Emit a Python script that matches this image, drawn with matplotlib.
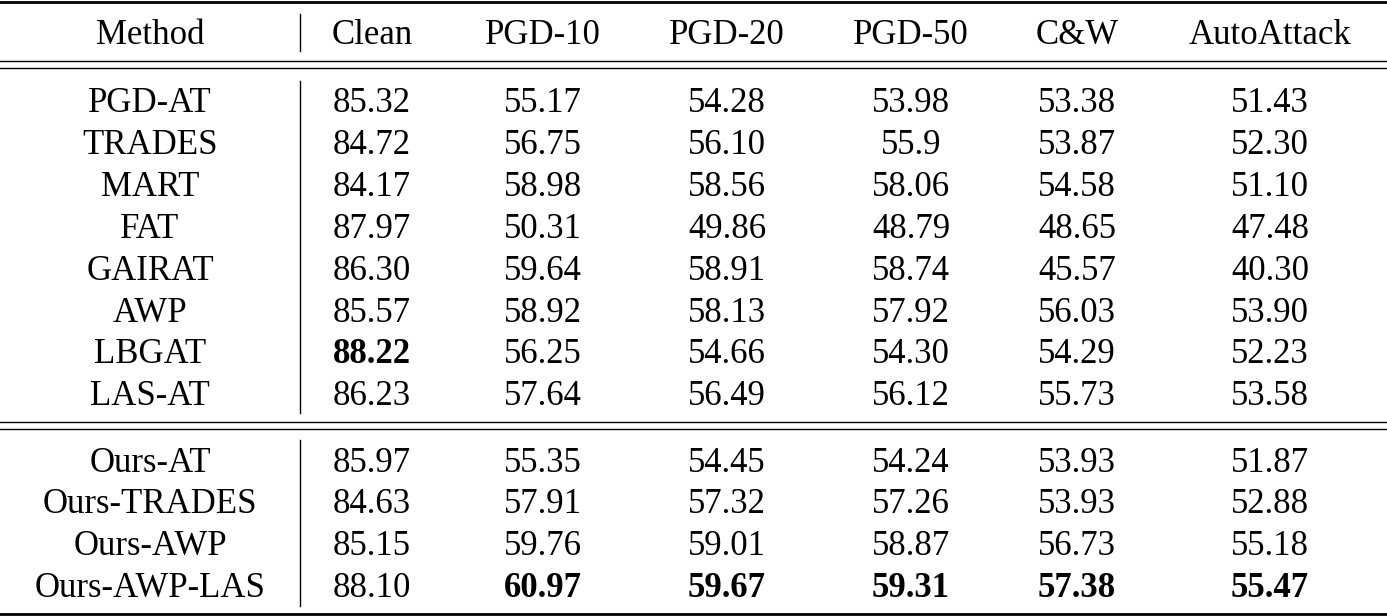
import matplotlib
matplotlib.use("Agg")
import matplotlib.pyplot as plt

columns = ["Method", "Clean", "PGD-10", "PGD-20", "PGD-50", "C&W", "AutoAttack"]
baselines = ["PGD-AT", "TRADES", "MART", "FAT", "GAIRAT", "AWP", "LBGAT", "LAS-AT"]
baseline_vals = [
    ["85.32", "55.17", "54.28", "53.98", "53.38", "51.43"],
    ["84.72", "56.75", "56.10", "55.9", "53.87", "52.30"],
    ["84.17", "58.98", "58.56", "58.06", "54.58", "51.10"],
    ["87.97", "50.31", "49.86", "48.79", "48.65", "47.48"],
    ["86.30", "59.64", "58.91", "58.74", "45.57", "40.30"],
    ["85.57", "58.92", "58.13", "57.92", "56.03", "53.90"],
    ["88.22", "56.25", "54.66", "54.30", "54.29", "52.23"],
    ["86.23", "57.64", "56.49", "56.12", "55.73", "53.58"],
]
ours = ["Ours-AT", "Ours-TRADES", "Ours-AWP", "Ours-AWP-LAS"]
ours_vals = [
    ["85.97", "55.35", "54.45", "54.24", "53.93", "51.87"],
    ["84.63", "57.91", "57.32", "57.26", "53.93", "52.88"],
    ["85.15", "59.76", "59.01", "58.87", "56.73", "55.18"],
    ["88.10", "60.97", "59.67", "59.31", "57.38", "55.47"],
]
# (row name, column index) cells shown in bold
bold_cells = {("LBGAT", 0), ("Ours-AWP-LAS", 1), ("Ours-AWP-LAS", 2),
              ("Ours-AWP-LAS", 3), ("Ours-AWP-LAS", 4), ("Ours-AWP-LAS", 5)}

W, H = 1387, 616
col_x = [150, 372, 543, 727, 911, 1077, 1270]
sep_x = 300
fs = 25

plt.rcParams["font.family"] = ["Liberation Serif", "DejaVu Serif"]
fig = plt.figure(figsize=(W / 100, H / 100), dpi=100)
ax = fig.add_axes([0, 0, 1, 1])
ax.set_xlim(0, W)
ax.set_ylim(H, 0)
ax.axis("off")


def put(x, y, s, bold=False):
    ax.text(x, y, s, ha="center", va="center_baseline", fontsize=fs,
            fontweight="bold" if bold else "normal")


def row(y, name, vals):
    put(col_x[0], y, name)
    for j, v in enumerate(vals):
        put(col_x[j + 1], y, v, (name, j) in bold_cells)


ax.plot([0, W], [2, 2], color="black", lw=2)
for j, c in enumerate(columns):
    put(col_x[j], 32, c)
ax.plot([sep_x, sep_x], [14, 51], color="black", lw=1)
ax.plot([0, W], [61, 61], color="black", lw=1)
ax.plot([0, W], [68, 68], color="black", lw=1)

y0, dy = 100, 41.8
for i, (n, v) in enumerate(zip(baselines, baseline_vals)):
    row(y0 + i * dy, n, v)
ax.plot([sep_x, sep_x], [81, 413], color="black", lw=1)
ax.plot([0, W], [422, 422], color="black", lw=1)
ax.plot([0, W], [429, 429], color="black", lw=1)

y1 = 459
for i, (n, v) in enumerate(zip(ours, ours_vals)):
    row(y1 + i * dy, n, v)
ax.plot([sep_x, sep_x], [440, 606], color="black", lw=1)
ax.plot([0, W], [614, 614], color="black", lw=2)

fig.savefig("out.png", dpi=100)
